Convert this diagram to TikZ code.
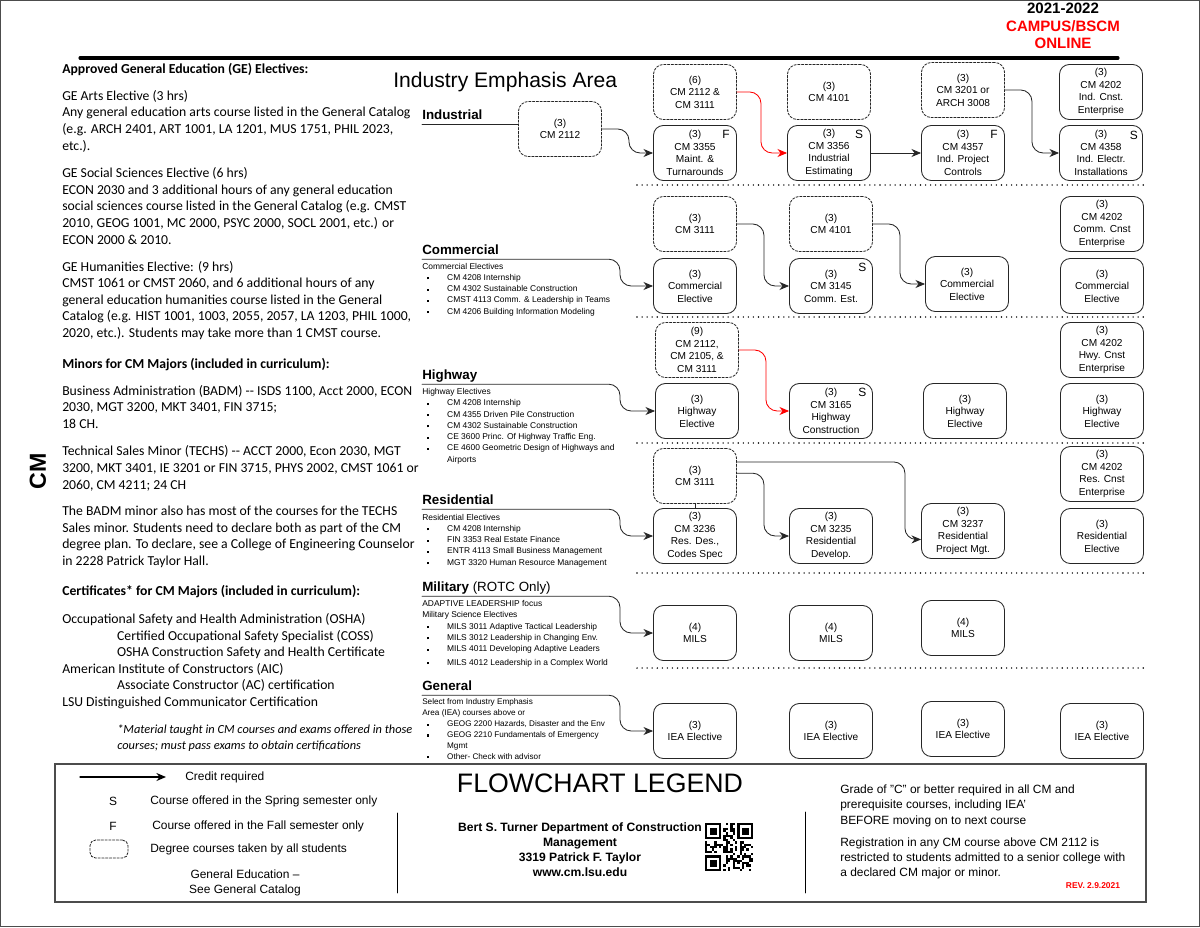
\documentclass[tikz,border=0pt]{standalone}
\usepackage{fontspec}
\setmainfont{Liberation Sans}
\newfontfamily\calfont{Carlito}
\usepackage{tikz}
\usetikzlibrary{arrows.meta}
\usepackage{xcolor}
\newcommand{\bulit}{\hspace*{3.5pt}\makebox[14.2pt][l]{\rule[0.6pt]{1.5pt}{1.5pt}}}
\newcommand{\contit}{\hspace*{17.7pt}}

\begin{document}
\begin{tikzpicture}[x=0.025cm,y=-0.025cm,>={Stealth[length=2.4mm,width=2mm]},line cap=round,
  course/.style={draw=black!85,line width=0.6pt,rounded corners=7pt,minimum width=2.075cm,minimum height=1.375cm,align=center,inner sep=1pt,font=\fontsize{7.2}{8.9}\selectfont},
  prereq/.style={course,dash pattern=on 1.6pt off 1.1pt},
  sem/.style={inner sep=0pt,font=\fontsize{8.5}{9}\selectfont},
  rowlab/.style={anchor=base west,inner xsep=0pt,inner ysep=3.5pt,text depth=0pt,font=\bfseries\fontsize{9.5}{11}\selectfont},
  rowlist/.style={anchor=base west,inner sep=0pt,align=left,font=\fontsize{6}{8}\selectfont},
  flow/.style={->,draw=black!85,line width=0.6pt,rounded corners=8pt},
  hot/.style={flow,draw=red},
  rowsep/.style={line width=1.1pt,dash pattern=on 0pt off 3.6pt},
  gecol/.style={anchor=base west,inner sep=0pt,align=left,font=\calfont\fontsize{9.75}{11.8}\selectfont},
  gehd/.style={gecol,font=\calfont\bfseries\fontsize{9.75}{11.8}\selectfont},
  leg/.style={inner sep=0pt,font=\fontsize{8.5}{11}\selectfont}]
\useasboundingbox (0,0) rectangle (1200,927);
\draw[black!70,line width=1pt] (0.7,0.7) rectangle (1199.3,926.3);

% header
\node[align=center,font=\bfseries\fontsize{10.7}{12.4}\selectfont] (year) at (1063,26) {2021-2022\\\textcolor{red}{CAMPUS/BSCM}\\\textcolor{red}{ONLINE}};
\draw[line width=2.2pt] (80,58) -- (1118,58);
\node[rotate=90,font=\bfseries\fontsize{16.5}{18}\selectfont] (cmside) at (38,471) {CM};

% general education column (base = last line)
\node[gehd] (gehead) at (62,73) {Approved General Education (GE) Electives:};
\node[gecol] (gearts) at (62,150) {GE Arts Elective (3 hrs)\\Any general education arts course listed in the General Catalog\\(e.g. ARCH 2401, ART 1001, LA 1201, MUS 1751, PHIL 2023,\\etc.).};
\node[gecol] (gesoc) at (62,244) {GE Social Sciences Elective (6 hrs)\\ECON 2030 and 3 additional hours of any general education\\social sciences course listed in the General Catalog (e.g. CMST\\2010, GEOG 1001, MC 2000, PSYC 2000, SOCL 2001, etc.) or\\ECON 2000 \& 2010.};
\node[gecol] (gehum) at (62,337.5) {GE Humanities Elective: (9 hrs)\\CMST 1061 or CMST 2060, and 6 additional hours of any\\general education humanities course listed in the General\\Catalog (e.g. HIST 1001, 1003, 2055, 2057, LA 1203, PHIL 1000,\\2020, etc.). Students may take more than 1 CMST course.};
\node[gehd] (minhead) at (62,368) {Minors for CM Majors (included in curriculum):};
\node[gecol] (badm) at (62,428.5) {Business Administration (BADM) -- ISDS 1100, Acct 2000, ECON\\2030, MGT 3200, MKT 3401, FIN 3715;\\18 CH.};
\node[gecol] (techs) at (62,489) {Technical Sales Minor (TECHS) -- ACCT 2000, Econ 2030, MGT\\3200, MKT 3401, IE 3201 or FIN 3715, PHYS 2002, CMST 1061 or\\2060, CM 4211; 24 CH};
\node[gecol] (badmnote) at (62,565.5) {The BADM minor also has most of the courses for the TECHS\\Sales minor. Students need to declare both as part of the CM\\degree plan. To declare, see a College of Engineering Counselor\\in 2228 Patrick Taylor Hall.};
\node[gehd] (certhead) at (62,595) {Certificates* for CM Majors (included in curriculum):};
\node[gecol] (certs) at (62,706.5) {Occupational Safety and Health Administration (OSHA)\\\hspace*{39pt}Certified Occupational Safety Specialist (COSS)\\\hspace*{39pt}OSHA Construction Safety and Health Certificate\\American Institute of Constructors (AIC)\\\hspace*{39pt}Associate Constructor (AC) certification\\LSU Distinguished Communicator Certification};
\node[gecol,font=\calfont\itshape\fontsize{8.8}{11.5}\selectfont] (certnote) at (117,749.5) {*Material taught in CM courses and exams offered in those\\courses; must pass exams to obtain certifications};

\node[anchor=base west,inner sep=0pt,font=\fontsize{15}{18}\selectfont] (ieatitle) at (393,87) {Industry Emphasis Area};

% industrial
\node[rowlab] (lind) at (422,119) {Industrial};
\node[prereq] (i2112) at (560,129) {(3)\\CM 2112};
\node[prereq] (i3111) at (695,92) {(6)\\CM 2112 \&\\CM 3111};
\node[course] (i3355) at (695,153) {(3)\\CM 3355\\Maint. \&\\Turnarounds};
\node[prereq] (i4101) at (829,92) {(3)\\CM 4101};
\node[course] (i3356) at (829,153) {(3)\\CM 3356\\Industrial\\Estimating};
\node[prereq] (i3201) at (963,90) {(3)\\CM 3201 or\\ARCH 3008};
\node[course] (i4357) at (963,153) {(3)\\CM 4357\\Ind. Project\\Controls};
\node[course] (i4202) at (1101,92) {(3)\\CM 4202\\Ind. Cnst.\\Enterprise};
\node[course] (i4358) at (1101,153) {(3)\\CM 4358\\Ind. Electr.\\Installations};
\node[sem] at ([xshift=-7.8pt,yshift=-6.4pt]i3355.north east) {F};
\node[sem] at ([xshift=-8.5pt,yshift=-6.4pt]i3356.north east) {S};
\node[sem] at ([xshift=-7.8pt,yshift=-6.4pt]i4357.north east) {F};
\node[sem] at ([xshift=-6.5pt,yshift=-7pt]i4358.north east) {S};
\draw[draw=black!85,line width=0.6pt] (lind.south west) -- (lind.south west -| i2112.west);
\draw[flow] (i2112.east) -- ++(27,0) |- (i3355.west);
\draw[hot] (i3111.east) -- ++(24,0) |- (i3356.west);
\draw[flow] (i3356.east) -- (i4357.west);
\draw[flow] (i3201.east) -- ++(27,0) |- (i4358.west);
\draw[rowsep] (637,185) -- (1145,185);

% commercial
\node[rowlab] (lcom) at (422,254) {Commercial};
\node[rowlist] (tcom) at (422,314) {Commercial Electives\\\bulit CM 4208 Internship\\\bulit CM 4302 Sustainable Construction\\\bulit CMST 4113 Comm. \& Leadership in Teams\\\bulit CM 4206 Building Information Modeling};
\node[prereq] (c3111) at (695,224) {(3)\\CM 3111};
\node[course] (ce1) at (695,286) {(3)\\Commercial\\Elective};
\node[prereq] (c4101) at (831,224) {(3)\\CM 4101};
\node[course] (c3145) at (831,286) {(3)\\CM 3145\\Comm. Est.};
\node[course] (ce3) at (967,284) {(3)\\Commercial\\Elective};
\node[course] (c4202) at (1102,224) {(3)\\CM 4202\\Comm. Cnst\\Enterprise};
\node[course] (ce4) at (1102,286) {(3)\\Commercial\\Elective};
\node[sem] at ([xshift=-7.5pt,yshift=-6.4pt]c3145.north east) {S};
\draw[flow] (lcom.south west) -- ++(198,0) |- (ce1.west);
\draw[flow] (c3111.east) -- ++(27,0) |- (c3145.west);
\draw[flow] (c4101.east) -- ++(27,0) |- (ce3.west);
\draw[rowsep] (637,317) -- (1145,317);

% highway
\node[rowlab] (lhwy) at (422,379) {Highway};
\node[rowlist] (thwy) at (422,462) {Highway Electives\\\bulit CM 4208 Internship\\\bulit CM 4355 Driven Pile Construction\\\bulit CM 4302 Sustainable Construction\\\bulit CE 3600 Princ. Of Highway Traffic Eng.\\\bulit CE 4600 Geometric Design of Highways and\\\contit Airports};
\node[prereq] (h2112) at (697,350) {(9)\\CM 2112,\\CM 2105, \&\\CM 3111};
\node[course] (he1) at (697,411) {(3)\\Highway\\Elective};
\node[course] (h3165) at (831,411) {(3)\\CM 3165\\Highway\\Construction};
\node[course] (he3) at (965,411) {(3)\\Highway\\Elective};
\node[course] (h4202) at (1102,350) {(3)\\CM 4202\\Hwy. Cnst\\Enterprise};
\node[course] (he4) at (1102,411) {(3)\\Highway\\Elective};
\node[sem] at ([xshift=-7.5pt,yshift=-6.4pt]h3165.north east) {S};
\draw[flow] (lhwy.south west) -- ++(198,0) |- (he1.west);
\draw[hot] (h2112.east) -- ++(27,0) |- (h3165.west);
\draw[rowsep] (637,443) -- (1145,443);

% residential
\node[rowlab] (lres) at (422,504) {Residential};
\node[rowlist] (tres) at (422,565) {Residential Electives\\\bulit CM 4208 Internship\\\bulit FIN 3353 Real Estate Finance\\\bulit ENTR 4113 Small Business Management\\\bulit MGT 3320 Human Resource Management};
\node[prereq] (r3111) at (695,476) {(3)\\CM 3111};
\node[course] (r3236) at (695,536) {(3)\\CM 3236\\Res. Des.,\\Codes Spec};
\node[course] (r3235) at (831,536) {(3)\\CM 3235\\Residential\\Develop.};
\node[course] (r3237) at (963,531) {(3)\\CM 3237\\Residential\\Project Mgt.};
\node[course] (r4202) at (1102,474) {(3)\\CM 4202\\Res. Cnst\\Enterprise};
\node[course] (re4) at (1102,536) {(3)\\Residential\\Elective};
\draw[flow] (lres.south west) -- ++(198,0) |- (r3236.west);
\draw[draw=black!85,line width=0.6pt] (r3111.south) -- (r3236.north);
\draw[flow] ([yshift=10pt]r3111.east) -- ++(168,0) |- ([yshift=-6pt]r3237.west);
\draw[flow] ([yshift=2pt]r3111.east) -- ++(27,0) |- (r3235.west);
\draw[rowsep] (637,573) -- (1145,573);

% military
\node[rowlab] (lmil) at (422,591) {Military \textmd{(ROTC Only)}};
\node[rowlist] (tmil) at (422,665) {ADAPTIVE LEADERSHIP focus\\Military Science Electives\\\bulit MILS 3011 Adaptive Tactical Leadership\\\bulit MILS 3012 Leadership in Changing Env.\\\bulit MILS 4011 Developing Adaptive Leaders\\[1.6pt]\bulit MILS 4012 Leadership in a Complex World};
\node[course] (m1) at (695,633) {(4)\\MILS};
\node[course] (m2) at (831,633) {(4)\\MILS};
\node[course] (m3) at (963,628) {(4)\\MILS};
\draw[flow] (lmil.south west) -- ++(198,0) |- (m1.west);
\draw[rowsep] (637,668) -- (1145,668);

% general
\node[rowlab] (lgen) at (422,690) {General};
\node[rowlist,font=\fontsize{5.8}{7.7}\selectfont] (tgen) at (422,759) {Select from Industry Emphasis\\Area (IEA) courses above or\\\bulit GEOG 2200 Hazards, Disaster and the Env\\\bulit GEOG 2210 Fundamentals of Emergency\\\contit Mgmt\\\bulit Other- Check with advisor};
\node[course] (g1) at (695,731) {(3)\\IEA Elective};
\node[course] (g2) at (831,731) {(3)\\IEA Elective};
\node[course] (g3) at (963,729) {(3)\\IEA Elective};
\node[course] (g4) at (1102,731) {(3)\\IEA Elective};
\draw[flow] (lgen.south west) -- ++(198,0) |- (g1.west);

% legend
\draw[black!70,line width=0.9pt] (55,764) rectangle (1146,902);
\coordinate (lga) at (80,777);
\coordinate (lgb) at (166,777);
\draw[->,line width=0.9pt] (lga) -- (lgb);
\node[leg,anchor=west] (lgcred) at (185,777) {Credit required};
\node[leg] (lgs) at (113,801) {S};
\node[leg,anchor=west] (lgspr) at (150,801) {Course offered in the Spring semester only};
\node[leg] (lgf) at (113,826) {F};
\node[leg,anchor=west] (lgfal) at (152,826) {Course offered in the Fall semester only};
\node[prereq,minimum width=0.95cm,minimum height=0.45cm,rounded corners=4pt] (lgbox) at (109,849) {};
\node[leg,anchor=west] (lgdeg) at (150,849) {Degree courses taken by all students};
\node[leg,align=center] (lgge) at (245,883) {General Education --\\See General Catalog};
\draw[line width=0.6pt] (397,813) -- (397,893);
\node[font=\fontsize{19}{22}\selectfont] (legtitle) at (600,783) {FLOWCHART LEGEND};
\node[align=center,font=\bfseries\fontsize{8.6}{10.6}\selectfont] (dept) at (580,850) {Bert S. Turner Department of Construction\\Management\\3319 Patrick F. Taylor\\www.cm.lsu.edu};
% qr code
\pgfmathsetseed{4242}
\foreach \i in {0,...,20}{
  \foreach \j in {0,...,20}{
    \pgfmathtruncatemacro\qf{(\i<8 && \j<8) || (\i>12 && \j<8) || (\i<8 && \j>12)}
    \pgfmathtruncatemacro\qb{rnd<0.5}
    \ifnum\qf=0 \ifnum\qb=1 \fill (705+2.3*\i,823+2.3*\j) rectangle ++(2.3,2.3); \fi\fi
  }
}
\foreach \qx/\qy in {705/823,737.2/823,705/855.2}{
  \fill (\qx,\qy) rectangle ++(16.1,16.1);
  \fill[white] (\qx+2.3,\qy+2.3) rectangle ++(11.5,11.5);
  \fill (\qx+4.6,\qy+4.6) rectangle ++(6.9,6.9);
}
\draw[line width=0.6pt] (805,812) -- (805,893);
\node[leg,anchor=base west,align=left,font=\fontsize{8.5}{11}\selectfont] (grade) at (840,824) {Grade of "C" or better required in all CM and\\prerequisite courses, including IEA'\\BEFORE moving on to next course};
\node[leg,anchor=base west,align=left,font=\fontsize{8.5}{10.6}\selectfont] (regist) at (840,876) {Registration in any CM course above CM 2112 is\\restricted to students admitted to a senior college with\\a declared CM major or minor.};
\node[text=red,font=\bfseries\fontsize{6}{7}\selectfont] (rev) at (1093,886) {REV. 2.9.2021};
\end{tikzpicture}
\end{document}
